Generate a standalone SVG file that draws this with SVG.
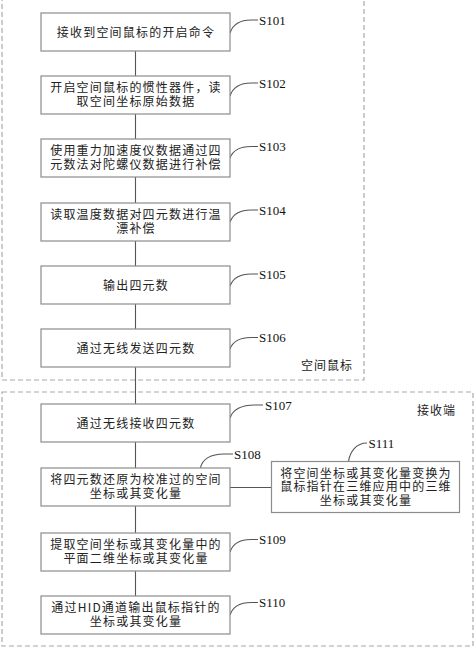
<svg xmlns="http://www.w3.org/2000/svg" width="474" height="648" viewBox="0 0 474 648">
<style>
.box{fill:#fff;stroke:#8c8c8c;stroke-width:1.2}
.t{font-family:"Noto Sans CJK SC",sans-serif;font-size:12px;letter-spacing:1.2px;fill:#222;text-anchor:middle}
.lbl{font-family:"Liberation Serif",serif;font-size:13px;fill:#111}
.reg{fill:none;stroke:#aaa;stroke-width:1.2;stroke-dasharray:5 3}
.ln{fill:none;stroke:#555;stroke-width:1.1}
.rt{font-family:"Noto Sans CJK SC",sans-serif;font-size:12px;letter-spacing:1px;fill:#222}
</style>
<rect width="474" height="648" fill="#fff"/>
<g id="regions">
<rect class="reg" x="2" y="-5" width="362" height="385"/>
<rect class="reg" x="2" y="392" width="471" height="254"/>
<text class="rt" x="301" y="369.5">空间鼠标</text>
<text class="rt" x="417" y="414.5">接收端</text>
</g>
<g id="connectors">
<path class="ln" d="M135.5,51V76M135.5,114V139M135.5,177V203M135.5,241V266M135.5,304V329M135.5,367V404M135.5,442V468M135.5,506V533M135.5,571V596"/>
<path class="ln" d="M230,487.5H271.5"/>
<path class="ln" d="M230,33C233,24 241,20 251,20H258"/>
<path class="ln" d="M230,96C233,87 241,83 251,83H258"/>
<path class="ln" d="M230,158C233,150 241,146.5 251,146.5H258"/>
<path class="ln" d="M230,222C233,214 241,210 251,210H258"/>
<path class="ln" d="M230,286C233,278 241,274 251,274H258"/>
<path class="ln" d="M230,349C233,341 241,337.5 251,337.5H258"/>
<path class="ln" d="M230,418C233,409 243,405 255,405H263"/>
<path class="ln" d="M200.5,468C202,459 211,454 224,454H233"/>
<path class="ln" d="M348.5,461.5C350,452 356,443 367,443"/>
<path class="ln" d="M230,552C233,543 241,539.5 251,539.5H258"/>
<path class="ln" d="M230,615C233,606 241,602.5 251,602.5H258"/>
</g>
<g id="S101"><rect class="box" x="41" y="13" width="189" height="38"/><text class="t" x="136" y="36.5">接收到空间鼠标的开启命令</text><text class="lbl" x="259" y="24.5">S101</text></g>
<g id="S102"><rect class="box" x="41" y="76" width="189" height="38"/><text class="t" x="136" y="92">开启空间鼠标的惯性器件，读</text><text class="t" x="136" y="105.5">取空间坐标原始数据</text><text class="lbl" x="259" y="87.5">S102</text></g>
<g id="S103"><rect class="box" x="41" y="139" width="189" height="38"/><text class="t" x="136" y="154.5">使用重力加速度仪数据通过四</text><text class="t" x="136" y="168.5">元数法对陀螺仪数据进行补偿</text><text class="lbl" x="259" y="151">S103</text></g>
<g id="S104"><rect class="box" x="41" y="203" width="189" height="38"/><text class="t" x="136" y="218.5">读取温度数据对四元数进行温</text><text class="t" x="136" y="232.5">漂补偿</text><text class="lbl" x="259" y="214.5">S104</text></g>
<g id="S105"><rect class="box" x="41" y="266" width="189" height="38"/><text class="t" x="136" y="289.5">输出四元数</text><text class="lbl" x="259" y="278.5">S105</text></g>
<g id="S106"><rect class="box" x="41" y="329" width="189" height="38"/><text class="t" x="136" y="352.5">通过无线发送四元数</text><text class="lbl" x="259" y="342">S106</text></g>
<g id="S107"><rect class="box" x="41" y="404" width="189" height="38"/><text class="t" x="136" y="427.5">通过无线接收四元数</text><text class="lbl" x="265" y="409.5">S107</text></g>
<g id="S108"><rect class="box" x="41" y="468" width="189" height="38"/><text class="t" x="136" y="484">将四元数还原为校准过的空间</text><text class="t" x="136" y="498">坐标或其变化量</text><text class="lbl" x="234" y="458.5">S108</text></g>
<g id="S111"><rect class="box" x="271.5" y="461.5" width="188" height="51"/><text class="t" x="366" y="477.5">将空间坐标或其变化量变换为</text><text class="t" x="366" y="491">鼠标指针在三维应用中的三维</text><text class="t" x="366" y="505">坐标或其变化量</text><text class="lbl" x="368.5" y="447.5">S111</text></g>
<g id="S109"><rect class="box" x="41" y="533" width="189" height="38"/><text class="t" x="136" y="548.5">提取空间坐标或其变化量中的</text><text class="t" x="136" y="562.5">平面二维坐标或其变化量</text><text class="lbl" x="259" y="544">S109</text></g>
<g id="S110"><rect class="box" x="41" y="596" width="189" height="38"/><text class="t" x="136" y="611.5">通过HID通道输出鼠标指针的</text><text class="t" x="136" y="625.5">坐标或其变化量</text><text class="lbl" x="259" y="607">S110</text></g>
</svg>
